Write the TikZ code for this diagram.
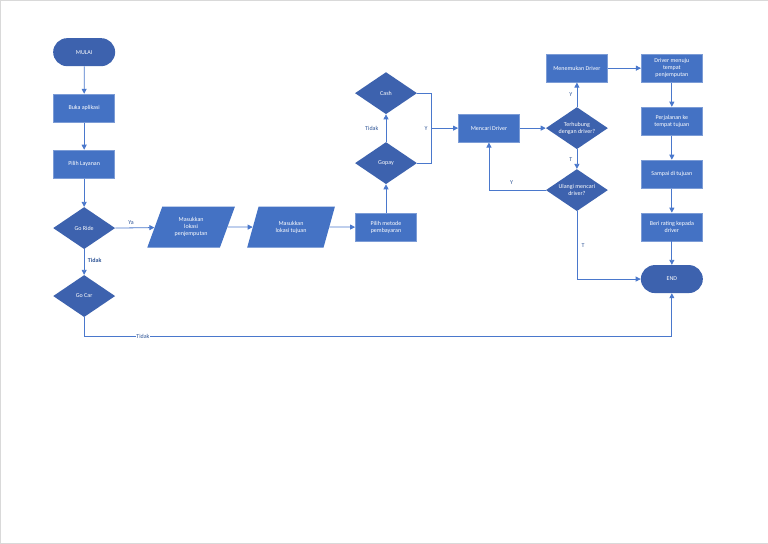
\documentclass[tikz,border=0pt]{standalone}
\usepackage{fontspec}
\setmainfont{Carlito}
\usetikzlibrary{shapes.geometric,shapes.misc,arrows.meta}
\definecolor{boxc}{HTML}{4472C4}
\definecolor{darkc}{HTML}{3D62AE}
\definecolor{linec}{HTML}{4A78CC}
\definecolor{lblc}{HTML}{2F5597}
\begin{document}
\begin{tikzpicture}[x=1pt,y=-1pt,
  every node/.style={font=\fontsize{6}{7}\selectfont},
  proc/.style={draw=boxc!70!white,fill=boxc,text=white,minimum width=61pt,minimum height=28pt,align=center,inner sep=1pt,line width=0.8pt},
  term/.style={fill=darkc,text=white,rounded rectangle,minimum width=62pt,minimum height=28pt,inner sep=0pt},
  dec/.style={fill=darkc,text=white,diamond,aspect=1.48,minimum width=62pt,minimum height=42pt,inner sep=0pt,align=center},
  io/.style={fill=boxc,text=white,trapezium,trapezium left angle=66,trapezium right angle=114,minimum width=64pt,minimum height=41pt,align=center,inner sep=0pt,trapezium stretches=true},
  arr/.style={draw=linec,line width=0.8pt,-{Triangle[length=5pt,width=5pt]}},
  ln/.style={draw=linec,line width=0.8pt},
  lbl/.style={text=lblc,font=\fontsize{6}{7}\selectfont}]
\draw[black!15,fill=white] (0,0) rectangle (768,543);
\useasboundingbox (0,0) rectangle (768,543);
\node[term] (mulai) at (84,52) {MULAI};
\node[proc] (buka) at (84,108) {Buka aplikasi};
\node[proc] (pilih) at (84,164) {Pilih Layanan};
\node[dec] (goride) at (84,228) {Go Ride};
\node[dec] (gocar) at (84,296) {Go Car};
\node[io,minimum width=88pt] (jemput) at (191,227) {Masukkan\\lokasi\\penjemputan};
\node[io,minimum width=88pt] (tujuan) at (291,227) {Masukkan\\lokasi tujuan};
\node[proc] (metode) at (386,227) {Pilih metode\\pembayaran};
\node[dec] (gopay) at (386,163) {Gopay};
\node[dec] (cash) at (386,93) {Cash};
\node[proc] (cari) at (489,128) {Mencari Driver};
\node[dec] (hub) at (577,128) {Terhubung\\dengan driver?};
\node[dec] (ulang) at (577,190) {Ulangi mencari\\driver?};
\node[proc] (temu) at (577,68) {Menemukan Driver};
\node[proc] (menuju) at (672,68) {Driver menuju\\tempat\\penjemputan};
\node[proc] (jalan) at (672,121) {Perjalanan ke\\tempat tujuan};
\node[proc] (sampai) at (672,174) {Sampai di tujuan};
\node[proc] (rating) at (672,227) {Beri rating kepada\\driver};
\node[term] (end) at (672,279) {END};
\coordinate (jn) at (431,128);
\draw[arr] (mulai) -- (buka);
\draw[arr] (buka) -- (pilih);
\draw[arr] (pilih) -- (goride);
\draw[arr] (goride) -- node[lbl,pos=0.45,right,font=\bfseries\fontsize{6}{7}\selectfont] {Tidak} (gocar);
\draw[arr] (goride.east) -- node[lbl,above,pos=0.4] {Ya} (jemput);
\draw[arr] (jemput) -- (tujuan);
\draw[arr] (tujuan) -- (metode);
\draw[arr] (metode) -- (gopay);
\draw[arr] (gopay) -- node[lbl,left=4pt] {Tidak} (cash);
\draw[ln] (gopay.east) -| (jn);
\draw[ln] (cash.east) -| (jn);
\draw[arr] (jn) -- node[lbl,left=1pt,pos=0.05] {Y} (cari);
\draw[arr] (cari) -- (hub);
\draw[arr] (hub) -- node[lbl,left=1pt] {Y} (temu);
\draw[arr] (hub) -- node[lbl,left=1pt] {T} (ulang);
\draw[arr] (ulang.west) -| node[lbl,pos=0.3,above=2pt] {Y} (cari.south);
\draw[arr] (ulang.south) |- node[lbl,pos=0.25,right=1pt] {T} (end.west);
\draw[arr] (temu) -- (menuju);
\draw[arr] (menuju) -- (jalan);
\draw[arr] (jalan) -- (sampai);
\draw[arr] (sampai) -- (rating);
\draw[arr] (rating) -- (end);
\draw[arr] (gocar.south) |- node[lbl,pos=0.55,fill=white,inner sep=0.5pt] {Tidak} (672,336) -- (end.south);
\end{tikzpicture}
\end{document}
